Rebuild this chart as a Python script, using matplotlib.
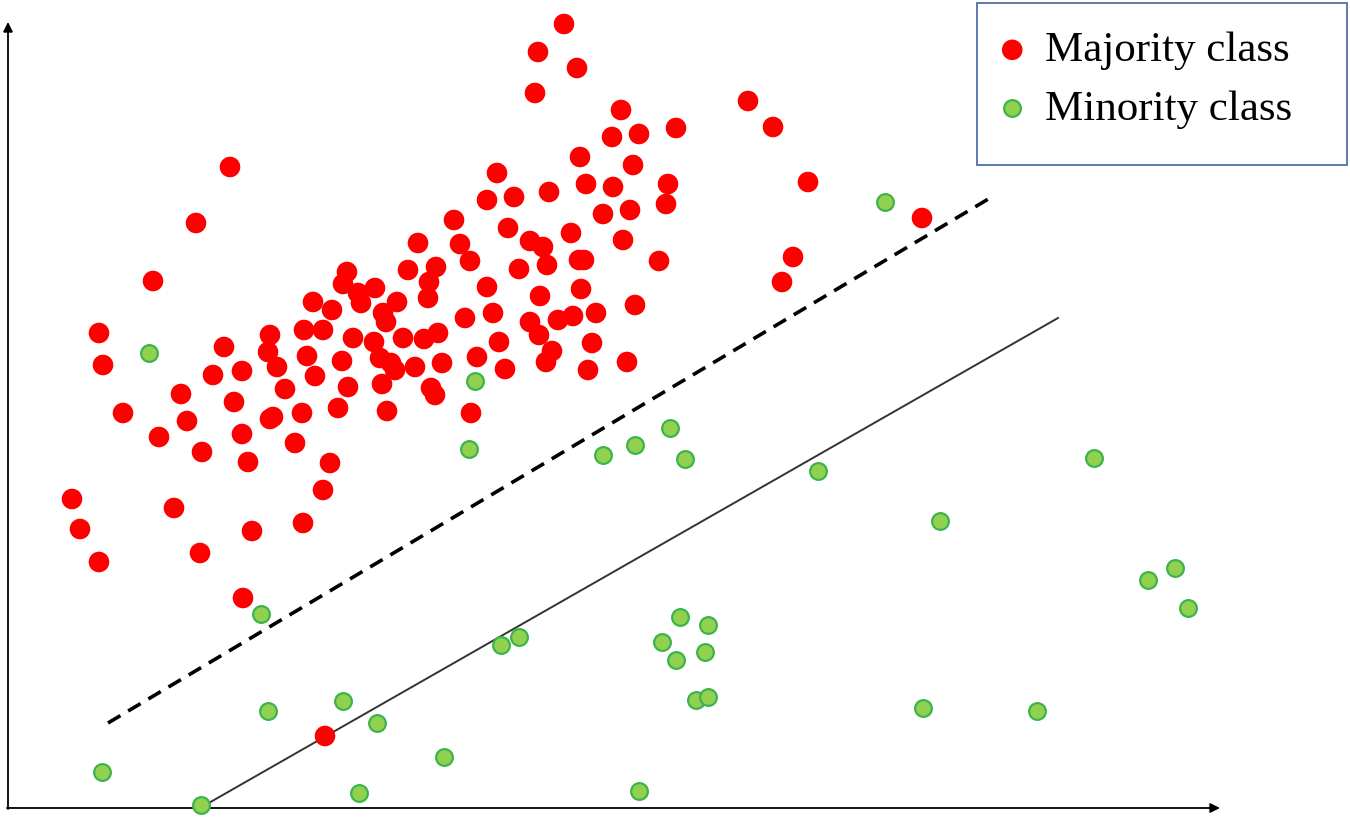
import numpy as np
import matplotlib.pyplot as plt
from matplotlib.patches import Rectangle

# point positions (x right, y down)
maj_x = [564, 538, 577, 535, 748, 621, 773, 676, 612, 639, 580, 633, 230, 497, 586, 613, 549, 668, 808,
         487, 514, 630, 666, 603, 922, 196, 454, 508, 571, 418, 460, 530, 543, 623, 793, 470, 408, 436,
         547, 579, 519, 584, 659, 153, 782, 347, 343, 429, 487, 581, 358, 375, 313, 332, 361, 397, 428,
         540, 383, 386, 465, 493, 573, 596, 635, 530, 558, 99, 304, 323, 270, 403, 424, 438, 353, 374,
         539, 499, 592, 224, 268, 277, 307, 342, 103, 213, 242, 315, 380, 391, 395, 415, 442, 477, 552,
         546, 505, 588, 627, 285, 348, 382, 181, 234, 270, 431, 435, 123, 187, 273, 302, 338, 387, 471,
         159, 242, 202, 295, 248, 330, 323, 72, 174, 80, 252, 303, 99, 200, 243, 325]
maj_y = [24, 52, 68, 93, 101, 110, 127, 128, 137, 134, 157, 165, 167, 173, 184, 187, 192, 184, 182,
         200, 197, 210, 204, 214, 218, 223, 220, 228, 233, 243, 244, 241, 247, 240, 257, 261, 270, 267,
         265, 260, 269, 260, 261, 281, 282, 272, 284, 282, 287, 289, 293, 288, 302, 310, 303, 302, 298,
         296, 313, 322, 318, 313, 316, 313, 305, 322, 320, 333, 330, 330, 335, 338, 339, 333, 338, 342,
         335, 342, 343, 347, 352, 367, 356, 361, 365, 375, 371, 376, 358, 363, 370, 367, 363, 357, 351,
         362, 369, 370, 362, 389, 387, 384, 394, 402, 419, 388, 395, 413, 421, 417, 413, 408, 411, 413,
         437, 434, 452, 443, 462, 463, 490, 499, 508, 529, 531, 523, 562, 553, 598, 736]

min_x = [885, 149, 475, 469, 603, 635, 670, 685, 818, 1094, 940, 1148, 1175, 1188, 261, 501, 519, 680,
         708, 662, 676, 705, 696, 708, 268, 343, 377, 923, 1037, 102, 444, 359, 639, 201]
min_y = [202, 353, 381, 449, 455, 445, 428, 459, 471, 458, 521, 580, 568, 608, 614, 645, 637, 617,
         625, 642, 660, 652, 700, 697, 711, 701, 723, 708, 711, 772, 757, 793, 791, 805]

# the two separating lines, end points
dash_x = [108, 990]
dash_y = [723, 198]
solid_x = [200, 1058]
solid_y = [808, 318]

fig = plt.figure(figsize=(13.5, 8.23), dpi=100)
ax = fig.add_axes([0, 0, 1, 1])
ax.set_xlim(0, 1350)
ax.set_ylim(823, 0)
ax.axis('off')

# axes with arrow heads
ax.annotate('', xy=(8, 22), xytext=(8, 809),
            arrowprops=dict(arrowstyle='-|>', color='black', lw=1.3, mutation_scale=14, shrinkA=0, shrinkB=0))
ax.annotate('', xy=(1220, 808), xytext=(7, 808),
            arrowprops=dict(arrowstyle='-|>', color='black', lw=1.3, mutation_scale=14, shrinkA=0, shrinkB=0))

ax.plot(dash_x, dash_y, color='black', lw=2.6, dashes=(4, 2.5), zorder=2)
ax.plot(solid_x, solid_y, color='#333333', lw=1.4, zorder=2)

ax.scatter(maj_x, maj_y, s=220, color='#ff0000', edgecolors='none', zorder=3, label='Majority class')
ax.scatter(min_x, min_y, s=145, color='#92d050', edgecolors='#3cb44b', linewidths=1.6, zorder=3,
           label='Minority class')

# legend box drawn separately (the original has a wide right margin)
ax.add_patch(Rectangle((977, 3), 370, 162, fill=False, edgecolor='#4f6fab', lw=1.3, zorder=4))
leg = ax.legend(loc='upper left', bbox_to_anchor=(995 / 1350, 1 - 31 / 823), frameon=False,
                prop={'family': 'Liberation Serif', 'size': 31}, borderpad=0, labelspacing=0.45,
                handletextpad=0.37, handlelength=0.8, borderaxespad=0, scatterpoints=1, markerscale=1.0)

fig.savefig('out.png', dpi=100)
